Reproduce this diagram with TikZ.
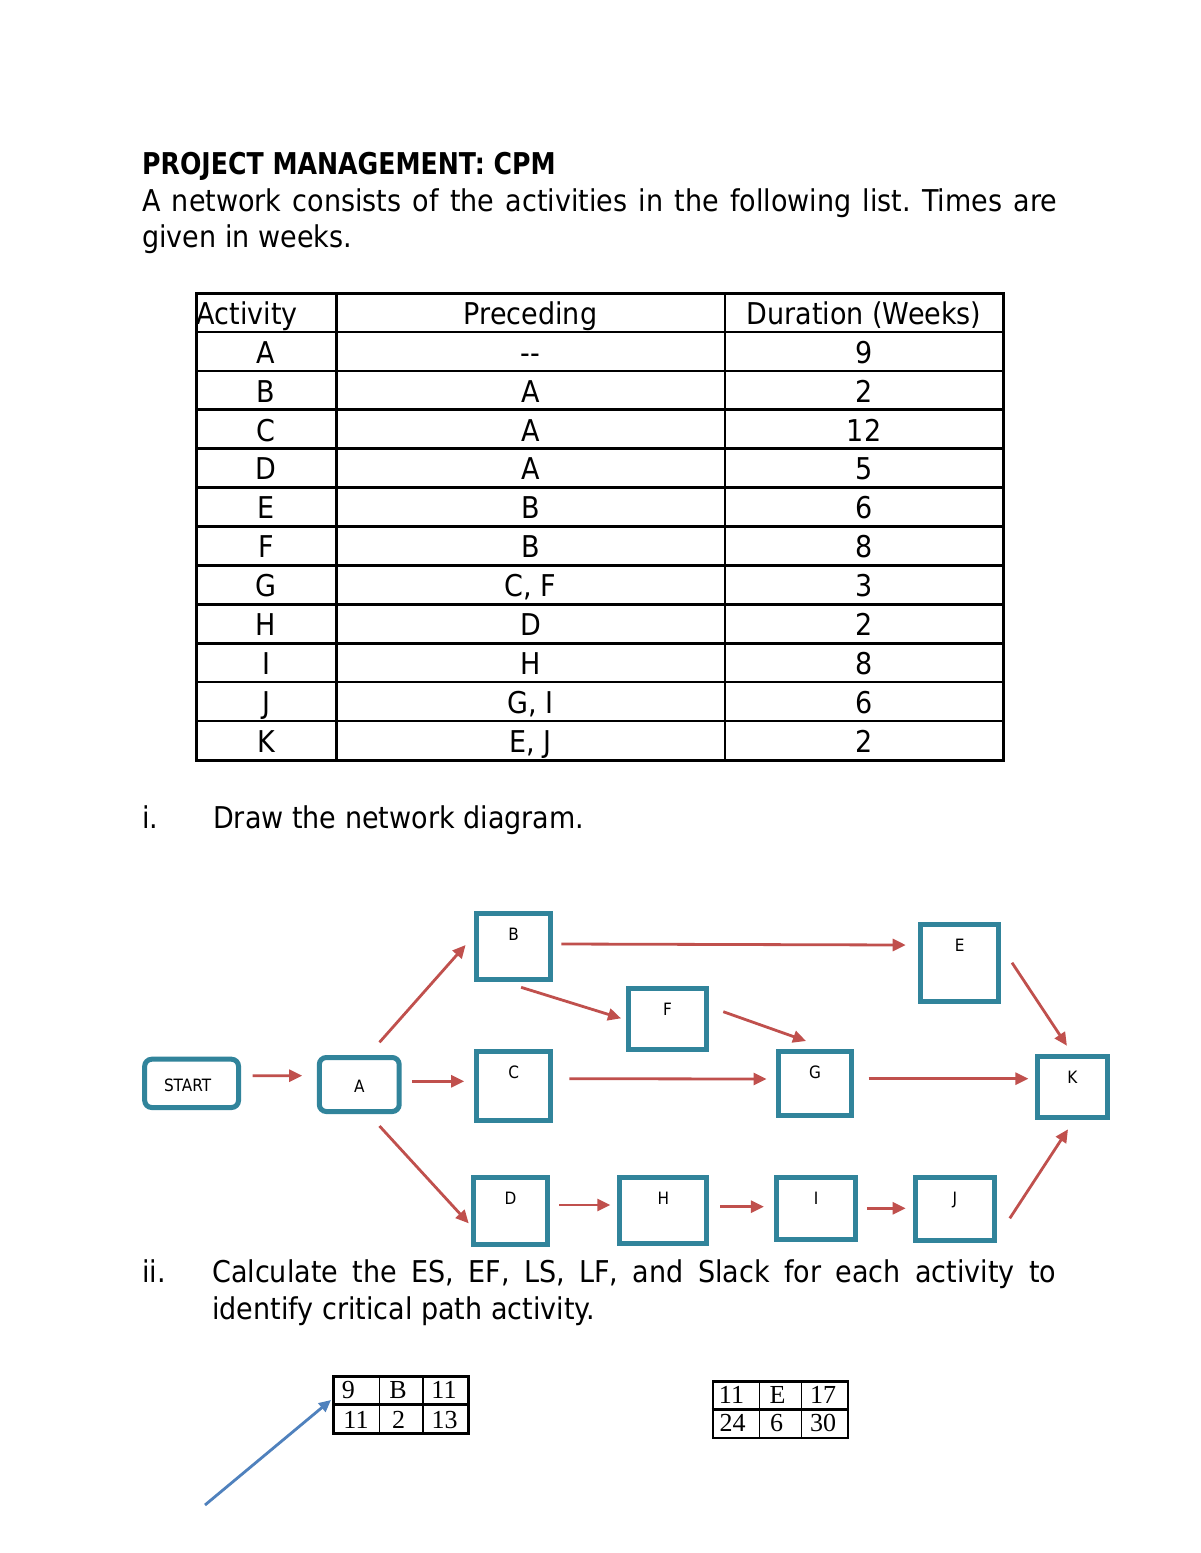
\documentclass[tikz,border=0pt]{standalone}
\usepackage{fontspec}
\usetikzlibrary{arrows.meta}
\setmainfont{DejaVu Sans}[FakeStretch=0.9]
\newfontfamily\bodyfont{DejaVu Sans}[FakeStretch=0.9]
\newfontfamily\titlefont{DejaVu Sans}[FakeStretch=0.84]
\newfontfamily\seriffont{Liberation Serif}
\definecolor{boxteal}{HTML}{31849B}
\definecolor{arrred}{HTML}{C0504D}
\definecolor{arrblue}{HTML}{4F81BD}
\frenchspacing
\tikzset{
  txt/.style={inner sep=0pt, anchor=base west, font=\bodyfont\frenchspacing\fontsize{30}{36}\selectfont},
  ctxt/.style={inner sep=0pt, anchor=base, font=\bodyfont\fontsize{30}{36}\selectfont},
  actbox/.style={draw=boxteal, line width=5pt, inner sep=0pt, fill=white},
  evbox/.style={actbox, rounded corners=7pt, text height=16.5pt, text depth=0pt,
                font=\bodyfont\fontsize{17}{20}\selectfont},
  lbl/.style={anchor=base, inner sep=0pt, yshift=-29.5pt, font=\bodyfont\fontsize{17}{20}\selectfont},
  arr/.style={draw=arrred, line width=2.8pt, -{Triangle[length=13pt,width=12pt]}},
  bluearr/.style={draw=arrblue, line width=2.8pt, -{Triangle[length=12pt,width=11pt]}},
  hline/.style={line width=2.6pt},
  vline/.style={line width=2.2pt},
  cell/.style={anchor=base, inner sep=0pt, font=\seriffont\fontsize{26}{30}\selectfont},
  frame/.style={draw, line width=2.6pt, inner sep=0pt},
}
\begin{document}
\begin{tikzpicture}[x=1pt,y=-1pt]
\fill[white] (0,0) rectangle (1200,1553);
\useasboundingbox (0,0) rectangle (1200,1553);

% ---------- heading text ----------
\node[txt, font=\titlefont\bfseries\fontsize{30}{36}\selectfont] (title) at (142,174) {PROJECT MANAGEMENT: CPM};
\node[txt] (l1) at (142,211) {\makebox[915pt][s]{A network consists of the activities in the following list. Times are}};
\node[txt] (l2) at (142,247) {given in weeks.};

% ---------- activity table ----------
\draw[line width=3pt] (196,293) rectangle (1003,760);
\foreach \i in {1,...,11} \draw[hline] (196,{293+38.917*\i}) -- (1003,{293+38.917*\i});
\draw[vline] (336.5,293) -- (336.5,760);
\draw[vline] (725,293) -- (725,760);
\node[txt] (hA) at (196.5,324.3) {Activity};
\node[ctxt] (hP) at (530.5,324.3) {Preceding};
\node[ctxt] (hD) at (864,324.3) {Duration (Weeks)};
\foreach \a/\p/\d [count=\i] in {A/-{}-/9, B/A/2, C/A/12, D/A/5, E/B/6, F/B/8, G/{C, F}/3, H/D/2, I/H/8, J/{G, I}/6, K/{E, J}/2}{
  \node[ctxt] (ra\i) at (266,{324.3+38.917*\i}) {\a};
  \node[ctxt] (rp\i) at (530.5,{324.3+38.917*\i}) {\p};
  \node[ctxt] (rd\i) at (864,{324.3+38.917*\i}) {\d};
}

% ---------- question i ----------
\node[txt] (qi) at (142,828) {i.};
\node[txt] (qitext) at (213,828) {Draw the network diagram.};

% ---------- network ----------
\node[evbox, minimum width=93.8pt, minimum height=48.3pt] (START) at (191.6,1083.35) {START\kern8pt};
\node[evbox, minimum width=79.9pt, minimum height=54pt] (A) at (359.25,1084.5) {A};
\node[actbox, minimum width=73.5pt, minimum height=66.6pt, label={[lbl]north:B}] (B) at (513.65,946.5) {};
\node[actbox, minimum width=73.5pt, minimum height=69pt, label={[lbl]north:C}] (C) at (513.65,1086.3) {};
\node[actbox, minimum width=74.6pt, minimum height=67.3pt, label={[lbl]north:D}] (D) at (510.4,1211.15) {};
\node[actbox, minimum width=78.2pt, minimum height=77pt, label={[lbl]north:E}] (E) at (959.8,963.3) {};
\node[actbox, minimum width=78.6pt, minimum height=60.7pt, label={[lbl]north:F}] (F) at (667.6,1018.65) {};
\node[actbox, minimum width=73.7pt, minimum height=63.4pt, label={[lbl]north:G}] (G) at (815.05,1083.5) {};
\node[actbox, minimum width=87pt, minimum height=65.6pt, label={[lbl]north:H}] (H) at (663.4,1210.3) {};
\node[actbox, minimum width=79.4pt, minimum height=62.3pt, label={[lbl]north:I}] (I) at (816.2,1208.65) {};
\node[actbox, minimum width=79.5pt, minimum height=63.3pt, label={[lbl]north:J}] (J) at (954.75,1209.15) {};
\node[actbox, minimum width=70pt, minimum height=61pt, label={[lbl]north:K}] (K) at (1072.5,1087) {};

\draw[arr] ([shift={(60.9,-7.65)}]START.center) -- ([shift={(-57.05,-8.8)}]A.center);
\draw[arr] ([shift={(20.25,-42.2)}]A.center) -- ([shift={(-48.05,-1.5)}]B.center);
\draw[arr] ([shift={(53.15,-3.2)}]A.center) -- ([shift={(-49.55,-5)}]C.center);
\draw[arr] ([shift={(20.25,41.5)}]A.center) -- ([shift={(-41.7,12.15)}]D.center);
\draw[arr] ([shift={(47.65,-2.5)}]B.center) -- ([shift={(-54.1,-18.3)}]E.center);
\draw[arr] ([shift={(7.45,40.8)}]B.center) -- ([shift={(-46.6,-0.35)}]F.center);
\draw[arr] ([shift={(55.7,-6.95)}]F.center) -- ([shift={(-9.05,-42.5)}]G.center);
\draw[arr] ([shift={(55.75,-7.6)}]C.center) -- ([shift={(-48.45,-4.5)}]G.center);
\draw[arr] ([shift={(53.55,-4.8)}]G.center) -- ([shift={(-44.1,-8.3)}]K.center);
\draw[arr] ([shift={(52.2,-0.6)}]E.center) -- ([shift={(-5.6,-41.3)}]K.center);
\draw[arr] ([shift={(49,-6.15)}]D.center) -- ([shift={(-53.1,-5.3)}]H.center);
\draw[arr] ([shift={(56.9,-3.6)}]H.center) -- ([shift={(-52.3,-1.95)}]I.center);
\draw[arr] ([shift={(50.7,-0.35)}]I.center) -- ([shift={(-49.05,-0.85)}]J.center);
\draw[arr] ([shift={(55.05,9.15)}]J.center) -- ([shift={(-4.5,42.3)}]K.center);

% ---------- question ii ----------
\node[txt] (qii) at (142,1282) {ii.};
\node[txt] (qiitext) at (212,1282) {\makebox[844pt][s]{Calculate the ES, EF, LS, LF, and Slack for each activity to}};
\node[txt] (qiitext2) at (212,1319) {identify critical path activity.};

% ---------- small result tables ----------
\node[frame, minimum width=135pt, minimum height=57.5pt] (T1) at (400.95,1405) {};
\draw[hline] (T1.west |- 0,1404.3) -- (T1.east |- 0,1404.3);
\draw[line width=1.6pt] (379.5,1375) -- (379.5,1435);
\draw[line width=1.6pt] (422.9,1375) -- (422.9,1435);
\node[cell] (t1a) at (348.3,1398.3) {9};
\node[cell] (t1b) at (398,1398.3) {B};
\node[cell] (t1c) at (444,1398.3) {11};
\node[cell] (t1d) at (356,1428.3) {11};
\node[cell] (t1e) at (398.5,1428.3) {2};
\node[cell] (t1f) at (444.7,1428.3) {13};

\node[frame, minimum width=135pt, minimum height=56.8pt] (T2) at (780.45,1409.65) {};
\draw[hline] (T2.west |- 0,1409.3) -- (T2.east |- 0,1409.3);
\draw[line width=1.6pt] (759.4,1380) -- (759.4,1439.3);
\draw[line width=1.6pt] (801.4,1380) -- (801.4,1439.3);
\node[cell] (t2a) at (731.5,1403.3) {11};
\node[cell] (t2b) at (777.5,1403.3) {E};
\node[cell] (t2c) at (823,1403.3) {17};
\node[cell] (t2d) at (732.5,1431.7) {24};
\node[cell] (t2e) at (776.5,1431.7) {6};
\node[cell] (t2f) at (823,1431.7) {30};

\coordinate (bstart) at (205,1505);
\draw[bluearr] (bstart) -- ([shift={(-69.95,-5)}]T1.center);
\end{tikzpicture}
\end{document}
